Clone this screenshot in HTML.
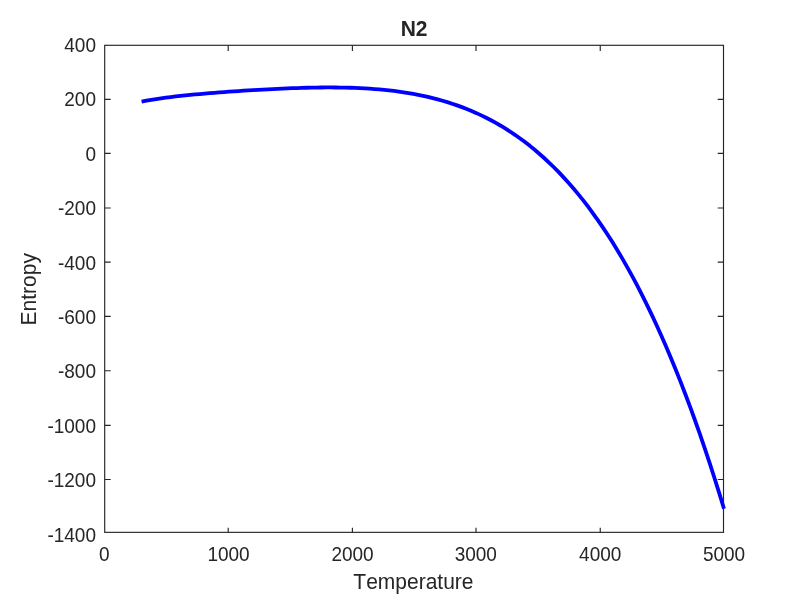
<!DOCTYPE html>
<html><head><meta charset="utf-8"><title>N2</title>
<style>
html,body{margin:0;padding:0;background:#fff;}
svg{display:block;}
text{font-family:"Liberation Sans",sans-serif;fill:#262626;font-kerning:none;}
</style></head><body>
<svg width="800" height="600" viewBox="0 0 800 600">
<rect width="800" height="600" fill="#fff"/>
<rect x="104.7" y="45.3" width="618.80" height="487.05" fill="#fff" stroke="#262626" stroke-width="1.15"/>
<path d="M228.20 532.35v-4.7M228.20 45.3v5.7M352.40 532.35v-4.7M352.40 45.3v5.7M476.00 532.35v-4.7M476.00 45.3v5.7M600.25 532.35v-4.7M600.25 45.3v5.7M104.7 99.33h6M723.5 99.33h-5.8M104.7 153.40h6M723.5 153.40h-5.8M104.7 208.00h6M723.5 208.00h-5.8M104.7 262.10h6M723.5 262.10h-5.8M104.7 316.40h6M723.5 316.40h-5.8M104.7 370.70h6M723.5 370.70h-5.8M104.7 425.30h6M723.5 425.30h-5.8M104.7 479.50h6M723.5 479.50h-5.8" stroke="#262626" stroke-width="1.15" fill="none"/>
<polyline points="141.58,101.64 146.43,100.67 151.28,99.80 156.14,99.02 160.99,98.30 165.84,97.64 170.70,97.03 175.55,96.45 180.40,95.92 185.26,95.41 190.11,94.93 194.96,94.47 199.82,94.03 204.67,93.60 209.53,93.20 214.38,92.81 219.23,92.43 224.09,92.07 228.94,91.71 233.79,91.37 238.65,91.04 243.50,90.72 248.35,90.42 253.21,90.12 258.06,89.83 262.91,89.56 267.77,89.30 272.62,89.05 277.47,88.81 282.33,88.59 287.18,88.39 292.04,88.20 296.89,88.03 301.74,87.88 306.60,87.75 311.45,87.64 316.30,87.55 321.16,87.49 326.01,87.46 330.86,87.45 335.72,87.48 340.57,87.54 345.42,87.63 350.28,87.76 355.13,87.93 359.99,88.14 364.84,88.39 369.69,88.69 374.55,89.04 379.40,89.44 384.25,89.89 389.11,90.41 393.96,90.98 398.81,91.61 403.67,92.32 408.52,93.09 413.37,93.93 418.23,94.85 423.08,95.85 427.93,96.93 432.79,98.10 437.64,99.36 442.50,100.72 447.35,102.17 452.20,103.72 457.06,105.38 461.91,107.14 466.76,109.02 471.62,111.02 476.47,113.14 481.32,115.39 486.18,117.77 491.03,120.28 495.88,122.94 500.74,125.74 505.59,128.69 510.44,131.79 515.30,135.05 520.15,138.48 525.01,142.08 529.86,145.85 534.71,149.80 539.57,153.94 544.42,158.26 549.27,162.79 554.13,167.51 558.98,172.44 563.83,177.59 568.69,182.95 573.54,188.54 578.39,194.36 583.25,200.41 588.10,206.71 592.95,213.26 597.81,220.06 602.66,227.12 607.52,234.46 612.37,242.06 617.22,249.95 622.08,258.12 626.93,266.59 631.78,275.36 636.64,284.43 641.49,293.83 646.34,303.54 651.20,313.58 656.05,323.96 660.90,334.69 665.76,345.76 670.61,357.19 675.46,368.99 680.32,381.16 685.17,393.71 690.03,406.66 694.88,419.99 699.73,433.74 704.59,447.89 709.44,462.47 714.29,477.47 719.15,492.91 724.00,508.80" fill="none" stroke="#0000ff" stroke-width="3.8" stroke-linejoin="round"/>
<text transform="translate(104.30 561.00) scale(1 1.04)" text-anchor="middle" font-size="19">0</text>
<text transform="translate(228.50 561.00) scale(1 1.04)" text-anchor="middle" font-size="19">1000</text>
<text transform="translate(352.50 561.00) scale(1 1.04)" text-anchor="middle" font-size="19">2000</text>
<text transform="translate(475.80 561.00) scale(1 1.04)" text-anchor="middle" font-size="19">3000</text>
<text transform="translate(600.20 561.00) scale(1 1.04)" text-anchor="middle" font-size="19">4000</text>
<text transform="translate(724.00 561.00) scale(1 1.04)" text-anchor="middle" font-size="19">5000</text>
<text transform="translate(96.00 52.00) scale(1 1.04)" text-anchor="end" font-size="19">400</text>
<text transform="translate(96.00 106.40) scale(1 1.04)" text-anchor="end" font-size="19">200</text>
<text transform="translate(96.00 160.80) scale(1 1.04)" text-anchor="end" font-size="19">0</text>
<text transform="translate(96.00 215.20) scale(1 1.04)" text-anchor="end" font-size="19">-200</text>
<text transform="translate(96.00 269.60) scale(1 1.04)" text-anchor="end" font-size="19">-400</text>
<text transform="translate(96.00 324.00) scale(1 1.04)" text-anchor="end" font-size="19">-600</text>
<text transform="translate(96.00 378.40) scale(1 1.04)" text-anchor="end" font-size="19">-800</text>
<text transform="translate(96.00 432.80) scale(1 1.04)" text-anchor="end" font-size="19">-1000</text>
<text transform="translate(96.00 487.20) scale(1 1.04)" text-anchor="end" font-size="19">-1200</text>
<text transform="translate(96.00 541.60) scale(1 1.04)" text-anchor="end" font-size="19">-1400</text>
<text transform="translate(413.40 589.00) scale(1 1.025)" text-anchor="middle" font-size="21">Temperature</text>
<text transform="translate(35.80 289.30) rotate(-90) scale(1 1.025)" text-anchor="middle" font-size="21">Entropy</text>
<text transform="translate(414.10 36.20) scale(1 1.04)" text-anchor="middle" font-size="21" font-weight="bold">N2</text>
</svg>
</body></html>
